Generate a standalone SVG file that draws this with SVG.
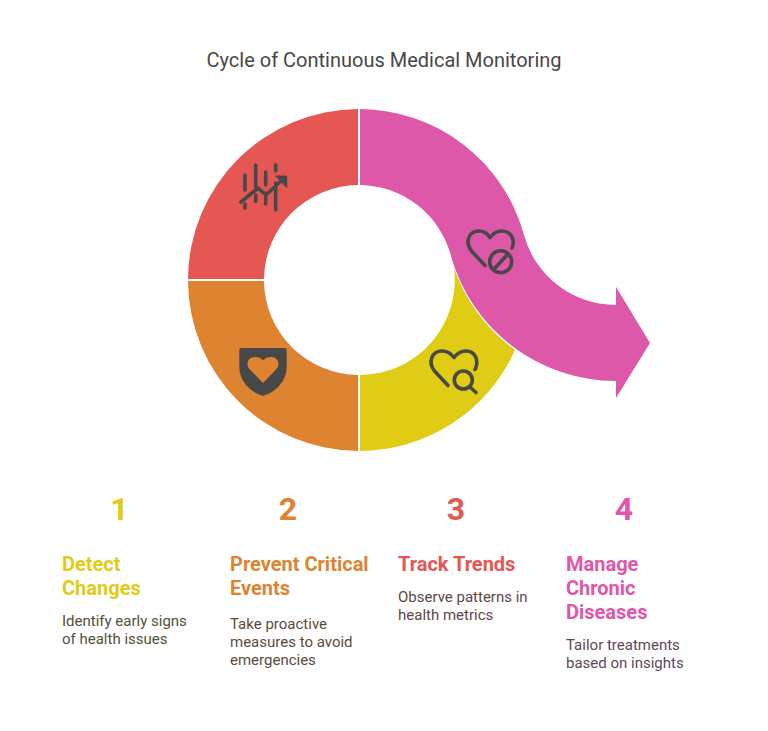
<svg xmlns="http://www.w3.org/2000/svg" width="768" height="731" viewBox="0 0 768 731">
<style>
text{font-family:Roboto,"Liberation Sans",sans-serif}
.title{font-size:20px;fill:#484848}
.num{font-size:32px;font-weight:700;text-anchor:middle}
.head{font-size:20px;font-weight:700}
.desc{font-size:15px}
.ico{fill:none;stroke:#484848;stroke-width:3.6;stroke-linecap:round;stroke-linejoin:round}
.y{fill:#e0cb15}.o{fill:#de8431}.r{fill:#e55753}.p{fill:#de58a9}
</style>
<rect width="768" height="731" fill="#fff"/>
<text class="title" x="384" y="67" text-anchor="middle">Cycle of Continuous Medical Monitoring</text>
<g id="connectors"/>
<g id="node-1">
<path class="y" d="M360 451A171 171 0 0 0 515 350A173.5 173.5 0 0 1 454 268A95 95 0 0 1 360 375Z"/>
<path class="ico" d="M448 385.500L434.500 371C427.500 362 432 351 442 351C447 351 451 353.500 454 357.500C457 353.500 461 351 466 351C475 351 479.500 360 475 369.500"/>
<circle class="ico" cx="463.300" cy="380" r="9"/>
<path class="ico" d="M470.500 387.500L476 392.500"/>
<text class="num y" x="119.500" y="520">1</text>
<text class="head y" x="62" y="571">Detect</text>
<text class="head y" x="62" y="595">Changes</text>
<text class="desc" fill="#564f38" x="62" y="626">Identify early signs</text>
<text class="desc" fill="#564f38" x="62" y="644">of health issues</text>
</g>
<g id="node-2">
<path class="o" d="M358 451A171 171 0 0 1 188 281H264A95 95 0 0 0 358 375Z"/>
<path fill="#484848" d="M241.500 348H284.500Q286.700 348 286.700 350.200V367C286.700 381 275 393 263 395.700C251 393 239.300 381 239.300 367V350.200Q239.300 348 241.500 348Z"/>
<path class="o" d="M263 383L250 369.500C245 364 248 357 255 357C258.500 357 261 358 263 360.500C265 358 267.500 357 271 357C278 357 281 364 276 369.500Z"/>
<text class="num o" x="288" y="520">2</text>
<text class="head o" x="230" y="571">Prevent Critical</text>
<text class="head o" x="230" y="595">Events</text>
<text class="desc" fill="#5c4b3c" x="230" y="629">Take proactive</text>
<text class="desc" fill="#5c4b3c" x="230" y="647">measures to avoid</text>
<text class="desc" fill="#5c4b3c" x="230" y="665">emergencies</text>
</g>
<g id="node-3">
<path class="r" d="M188 279A171 171 0 0 1 358 109V185A95 95 0 0 0 264 279Z"/>
<path class="ico" d="M245 175V190M245 204V208M255.700 165V187M255.700 195V201.500M265.700 172V185M265.700 193V204M275.700 165V171M275.700 183V210M241 202L258 188L266 195L283 179"/>
<path fill="#484848" stroke="#484848" stroke-linejoin="round" d="M275.500 176H286.700V187.300Z"/>
<text class="num r" x="456" y="520">3</text>
<text class="head r" x="398" y="571">Track Trends</text>
<text class="desc" fill="#604848" x="398" y="602">Observe patterns in</text>
<text class="desc" fill="#604848" x="398" y="620">health metrics</text>
</g>
<g id="node-4">
<path class="p" d="M360 109A171 171 0 0 1 524 235A95 95 0 0 0 616 305V287L650 343L616 398V381A171 171 0 0 1 450.700 255A95 95 0 0 0 360 185Z"/>
<path class="ico" d="M485 265.500L471.500 251C464.500 242 469 231 479 231C484 231 487.500 233.500 490 237.500C493 233.500 497 231 502 231C511 231 515.500 240 512 248"/>
<circle class="ico" cx="500.700" cy="261.700" r="11"/>
<path class="ico" d="M495 268L507 255"/>
<text class="num p" x="624" y="520">4</text>
<text class="head p" x="566" y="571">Manage</text>
<text class="head p" x="566" y="595">Chronic</text>
<text class="head p" x="566" y="619">Diseases</text>
<text class="desc" fill="#5e4858" x="566" y="650">Tailor treatments</text>
<text class="desc" fill="#5e4858" x="566" y="668">based on insights</text>
</g>
</svg>
